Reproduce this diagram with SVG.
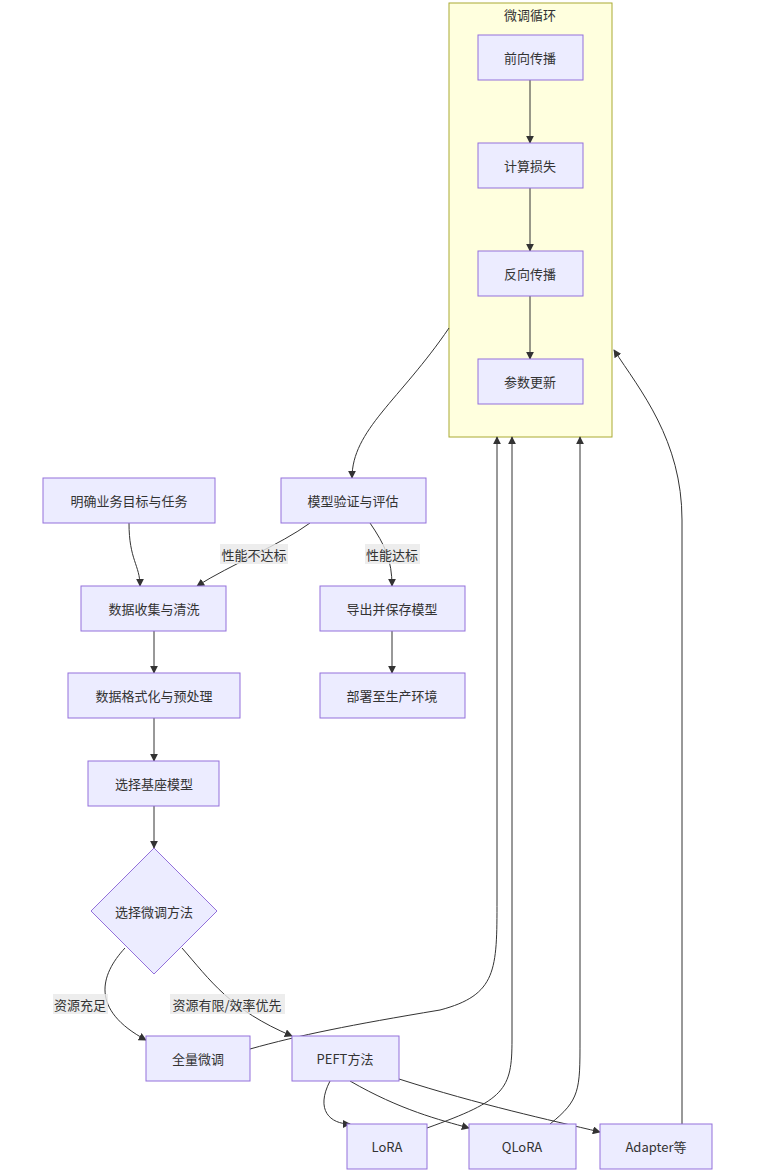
<svg xmlns="http://www.w3.org/2000/svg" width="780" height="1174" viewBox="0 0 780 1174">
<style>
.n{fill:#ececff;stroke:#9370db;stroke-width:1}
text{font-family:"Noto Sans CJK SC","Liberation Sans",sans-serif;font-size:13px;fill:#333;text-anchor:middle;dominant-baseline:central}
.e{fill:none;stroke:#333;stroke-width:1;marker-end:url(#a)}
.lb{fill:#e8e8e8;opacity:0.8}
</style>
<defs><marker id="a" viewBox="0 0 10 10" refX="9" refY="5" markerWidth="8" markerHeight="8" orient="auto"><path d="M0,0L10,5L0,10z" fill="#333"/></marker></defs>
<g id="cluster"><rect x="449" y="3" width="163" height="434" fill="#ffffde" stroke="#aaaa33"/><text x="530" y="14">微调循环</text></g>
<g id="edges">
<path class="e" d="M530,80V143"/><path class="e" d="M530,188V251"/><path class="e" d="M530,296V359"/>
<path class="e" d="M449,328C400,400 352,430 352,478"/>
<path class="e" d="M129,523C129,560 140,565 140,586"/>
<path class="e" d="M310,523C280,545 230,565 197,586"/>
<path class="e" d="M370,523C385,545 392,560 392,586"/>
<path class="e" d="M392,631V673"/><path class="e" d="M154,631V673"/><path class="e" d="M154,718V761"/><path class="e" d="M154,806V848"/>
<path class="e" d="M125,948C100,975 90,1010 146,1040"/>
<path class="e" d="M182,948C210,980 230,1010 292,1036"/>
<path class="e" d="M250,1049C300,1035 350,1025 440,1010C497,995 497,970 497,900V437"/>
<path class="e" d="M330,1081C315,1110 330,1124 350,1124"/>
<path class="e" d="M350,1081C400,1110 440,1120 469,1128"/>
<path class="e" d="M399,1079C480,1105 550,1120 600,1132"/>
<path class="e" d="M427,1128C505,1100 512,1090 512,1040V437"/>
<path class="e" d="M550,1124C580,1100 580,1090 580,1040V437"/>
<path class="e" d="M682,1124V520C682,440 640,390 614,350"/>
<rect class="lb" x="220" y="544" width="68" height="20"/><text x="254" y="554">性能不达标</text>
<rect class="lb" x="365" y="544" width="55" height="20"/><text x="392" y="554">性能达标</text>
<rect class="lb" x="53" y="994" width="55" height="20"/><text x="80" y="1004">资源充足</text>
<rect class="lb" x="170" y="994" width="115" height="20"/><text x="227" y="1004">资源有限/效率优先</text>
</g>
<g id="n1"><rect class="n" x="478" y="35" width="105" height="45"/><text x="530" y="57">前向传播</text></g>
<g id="n2"><rect class="n" x="478" y="143" width="105" height="45"/><text x="530" y="165">计算损失</text></g>
<g id="n3"><rect class="n" x="478" y="251" width="105" height="45"/><text x="530" y="273">反向传播</text></g>
<g id="n4"><rect class="n" x="478" y="359" width="105" height="45"/><text x="530" y="381">参数更新</text></g>
<g id="n5"><rect class="n" x="43" y="478" width="172" height="45"/><text x="129" y="500">明确业务目标与任务</text></g>
<g id="n6"><rect class="n" x="281" y="478" width="145" height="45"/><text x="353" y="500">模型验证与评估</text></g>
<g id="n7"><rect class="n" x="81" y="586" width="145" height="45"/><text x="154" y="608">数据收集与清洗</text></g>
<g id="n8"><rect class="n" x="320" y="586" width="145" height="45"/><text x="392" y="608">导出并保存模型</text></g>
<g id="n9"><rect class="n" x="68" y="673" width="172" height="45"/><text x="154" y="695">数据格式化与预处理</text></g>
<g id="n10"><rect class="n" x="320" y="673" width="145" height="45"/><text x="392" y="695">部署至生产环境</text></g>
<g id="n11"><rect class="n" x="88" y="761" width="131" height="45"/><text x="154" y="783">选择基座模型</text></g>
<g id="n12"><polygon class="n" points="154,848 217,911 154,974 91,911"/><text x="154" y="911">选择微调方法</text></g>
<g id="n13"><rect class="n" x="146" y="1036" width="104" height="45"/><text x="198" y="1058">全量微调</text></g>
<g id="n14"><rect class="n" x="292" y="1036" width="107" height="45"/><text x="345" y="1058">PEFT方法</text></g>
<g id="n15"><rect class="n" x="347" y="1124" width="80" height="45"/><text x="387" y="1146">LoRA</text></g>
<g id="n16"><rect class="n" x="469" y="1124" width="107" height="45"/><text x="522" y="1146">QLoRA</text></g>
<g id="n17"><rect class="n" x="600" y="1124" width="112" height="45"/><text x="656" y="1146">Adapter等</text></g>
</svg>
